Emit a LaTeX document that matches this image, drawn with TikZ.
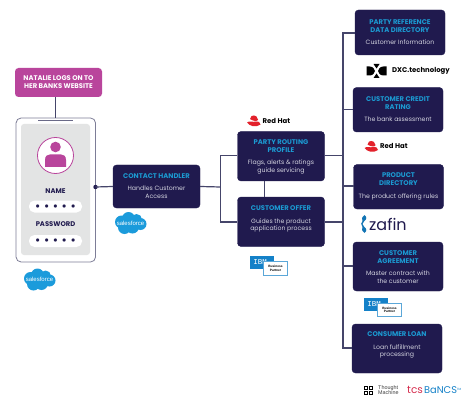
\documentclass[tikz,border=0pt]{standalone}
\usepackage{fontspec}
\setmainfont{Poppins}
\newfontfamily\libsans{Liberation Sans}
\newfontfamily\libmono{Liberation Mono}
\definecolor{navy}{HTML}{201A4E}
\definecolor{linec}{HTML}{45456A}
\definecolor{titleb}{HTML}{1B9AD2}
\definecolor{magen}{HTML}{B9459C}
\definecolor{greyin}{HTML}{E3E4E4}
\definecolor{cloudb}{HTML}{1B9BDB}
\definecolor{hatred}{HTML}{E3212B}
\definecolor{ibmb}{HTML}{1481C8}
\definecolor{descc}{HTML}{D4D4E0}
\tikzset{
 card/.style={fill=navy,draw=navy,rounded corners=3.5pt,inner sep=0pt},
 conn/.style={draw=linec,line width=1.2pt},
 cardtext/.style={align=center,inner sep=0pt,text=descc,font=\fontsize{6.2}{7.4}\selectfont},
 logotext/.style={inner sep=0pt,anchor=west},
}
\newcommand{\ttl}[1]{{\color{titleb}\fontsize{6.8}{7.4}\selectfont\bfseries #1}}
% \cardbox{name}{x1}{y1}{x2}{y2}{text y}{text}
\newcommand{\cardbox}[7]{%
 \node[card,minimum width={(#4-#2)*1pt},minimum height={(#5-#3)*1pt}] (#1) at ({(#2+#4)/2},{(#3+#5)/2}) {};
 \node[cardtext] (#1text) at ({(#2+#4)/2},#6) {#7};}
\newcommand{\cloud}[3]{% name cx cy
 \begin{scope}[shift={(#2,#3)}]
 \fill[cloudb] (-9,-1) circle (6.5) (-2,-4.5) circle (6.5) (6,-3.5) circle (5.5) (10,1) circle (6) (2,4) circle (6.5) (-6,4.5) circle (6.5);
 \node[text=white,inner sep=0pt,font=\libsans\fontsize{6}{6}\selectfont] (#1) at (0,0) {salesforce};
 \end{scope}}
\newcommand{\redhat}[3]{% name x y (left,centre)
 \begin{scope}[shift={(#2,#3)}]
 \fill[hatred] (0,2) .. controls (2,5.5) and (9,7.5) .. (13.5,4) .. controls (13.5,1.5) and (11,0.5) .. (9,1)
   .. controls (6,2) and (2,0) .. (0,2) -- cycle;
 \fill[hatred] (3,-1.5) .. controls (3.5,-4.5) and (5,-5) .. (7,-5) .. controls (9,-5) and (10,-4) .. (11,-1) .. controls (11.5,1) and (6,1) .. (3,-1.5) -- cycle;
 \node[logotext,font=\fontsize{6.9}{8}\selectfont\bfseries] (#1) at (15.5,0) {Red Hat};
 \end{scope}}
\newcommand{\ibm}[3]{% name x y (top-left)
 \begin{scope}[shift={(#2,#3)}]
 \fill[ibmb] (0,0) rectangle (24,13);
 \node[text=white,inner sep=0pt,font=\libmono\fontsize{7.5}{8}\selectfont] (#1) at (10.5,6.5) {IBM};
 \draw[ibmb!70,fill=white,line width=0.6pt] (14,5.5) rectangle (38,19);
 \node[inner sep=0pt,align=center,font=\libsans\bfseries\fontsize{3.2}{3.6}\selectfont] (#1b) at (26,12.2) {Business\\Partner};
 \end{scope}}
\newcommand{\fivedots}{$\bullet$\hspace{4.6pt}$\bullet$\hspace{4.6pt}$\bullet$\hspace{4.6pt}$\bullet$\hspace{4.6pt}$\bullet$}
\begin{document}
\begin{tikzpicture}[x=1pt,y=-1pt]
\useasboundingbox (0,0) rectangle (474,409);
\fill[white] (0,0) rectangle (474,409);
\coordinate (phoneport) at (95.5,187);
\coordinate (split) at (220.5,187);
\coordinate (splitup) at (220.5,155.5);
\coordinate (splitdn) at (220.5,222);
\coordinate (trunkt) at (343,33);
\coordinate (trunkb) at (343,348);
\coordinate (trunkr) at (343,155.5);
\coordinate (trunko) at (343,222);
% Natalie
\node[fill=magen,rounded corners=3.5pt,minimum width=87pt,minimum height=29pt,inner sep=0pt,align=center,text=white,font=\fontsize{6.8}{8.2}\selectfont\bfseries] (natalie) at (58.5,82.5) {NATALIE LOGS ON TO\\HER BANKS WEBSITE};
% Phone
\node[draw=linec!70,fill=white,line width=0.8pt,rounded corners=5pt,minimum width=79.5pt,minimum height=144pt,inner sep=0pt] (phone) at (55.8,190) {};
\draw[conn] (natalie.south -| phone.north) -- (phone.north);
\draw[linec!80,line width=1.4pt] (38,120.5) -- (72.5,120.5);
\node[fill=greyin,rounded corners=3pt,minimum width=69pt,minimum height=131pt,inner sep=0pt] (screen) at (55.5,189.5) {};
\node[circle,draw=magen,fill=white,line width=0.8pt,minimum size=36pt,inner sep=0pt] (avatar) at (55.5,155.5) {};
\fill[magen] (55.5,147) circle (5.3);
\fill[magen] (45,167) -- (45,160) .. controls (45,155.5) and (48,154.5) .. (50,154.5) -- (61,154.5) .. controls (63,154.5) and (66,155.5) .. (66,160) -- (66,167) -- cycle;
\node[inner sep=0pt,text=navy,font=\fontsize{6.8}{8}\selectfont\bfseries] (namelbl) at (55.5,191) {NAME};
\node[fill=white,rounded corners=5.5pt,minimum width=53pt,minimum height=12pt,inner sep=0pt,text=navy,font=\libsans\fontsize{8}{8}\selectfont] (namefld) at (55.5,206.5) {\fivedots};
\node[inner sep=0pt,text=navy,font=\fontsize{6.8}{8}\selectfont\bfseries] (passlbl) at (55.5,224) {PASSWORD};
\node[fill=white,rounded corners=5.5pt,minimum width=53pt,minimum height=12pt,inner sep=0pt,text=navy,font=\libsans\fontsize{8}{8}\selectfont] (passfld) at (55.5,241) {\fivedots};
% Cards
\cardbox{contact}{113}{165}{200}{208}{186}{\ttl{CONTACT HANDLER}\\[5pt]Handles Customer\\Access}
\cardbox{routing}{237.5}{131.5}{324.5}{181}{156.7}{\ttl{PARTY ROUTING}\\[0.7pt]\ttl{PROFILE}\\[5pt]Flags, alerts \& ratings\\guide servicing}
\cardbox{offer}{237.5}{197}{324.5}{246.5}{219}{\ttl{CUSTOMER OFFER}\\[5pt]Guides the product\\application process}
\cardbox{partyref}{355}{10}{445}{55}{32}{\ttl{PARTY REFERENCE}\\[0.7pt]\ttl{DATA DIRECTORY}\\[5pt]Customer Information}
\cardbox{credit}{353}{87.5}{443}{132}{109.2}{\ttl{CUSTOMER CREDIT}\\[0.7pt]\ttl{RATING}\\[5pt]The bank assessment}
\cardbox{product}{353.5}{164.5}{443.5}{209}{186.5}{\ttl{PRODUCT}\\[0.7pt]\ttl{DIRECTORY}\\[5pt]The product offering rules}
\cardbox{agreement}{353}{242}{443}{291}{267}{\ttl{CUSTOMER}\\[0.7pt]\ttl{AGREEMENT}\\[5pt]Master contract with\\the customer}
\cardbox{loan}{352}{324}{442}{373}{345}{\ttl{CONSUMER LOAN}\\[5pt]Loan fulfillment\\processing}
% Connectors
\fill[navy] (phoneport) circle (2.2);
\draw[conn] (phoneport) -- (contact.west);
\draw[conn] (contact.east) -- (split);
\draw[conn] (routing.west |- splitup) -- (splitup) -- (splitdn) -- (offer.west |- splitdn);
\draw[conn] (264.7,181) -- (264.7,197);
\draw[conn] (routing.east |- trunkr) -- (trunkr);
\draw[conn] (offer.east |- trunko) -- (trunko);
\draw[conn] (partyref.west |- trunkt) -- (trunkt) -- (trunkb) -- (loan.west |- trunkb);
\draw[conn] (343,109.5) -- (353,109.5);
\draw[conn] (343,186) -- (353.5,186);
\draw[conn] (343,266) -- (353,266);
% Salesforce
\cloud{sf1}{130.5}{223}
\cloud{sf2}{39.5}{279.5}
% Red Hat
\redhat{rh1}{247}{120.5}
\redhat{rh2}{364.5}{146}
% DXC
\begin{scope}[shift={(366.5,71)}]
 \fill (0,-4.5) -- (3,-4.5) .. controls (7,-4.5) and (8,-1.5) .. (8.5,0) .. controls (8,1.5) and (7,4.5) .. (3,4.5) -- (0,4.5) -- cycle;
 \fill (20,-4.5) -- (17,-4.5) .. controls (13,-4.5) and (12,-1.5) .. (11.5,0) .. controls (12,1.5) and (13,4.5) .. (17,4.5) -- (20,4.5) -- cycle;
 \fill (7,-7) -- (13,-7) -- (10,-2.5) -- cycle;
 \fill (7,7) -- (13,7) -- (10,2.5) -- cycle;
 \node[logotext,font=\fontsize{6.9}{8}\selectfont\bfseries] (dxc) at (25.5,0) {DXC.technology};
\end{scope}
% Zafin
\begin{scope}[shift={(361,224)}]
 \fill[ibmb!90!black] (3.5,-9) .. controls (6,-7) and (6,-5) .. (3,-2.5) .. controls (1,-1) and (1,1) .. (3,2.5) .. controls (6,5) and (6,7) .. (3.5,9) .. controls (1,7.5) and (0,5) .. (1.5,3) .. controls (-0.5,0.5) and (0,-1) .. (1.5,-3) .. controls (0,-5) and (1,-7.5) .. (3.5,-9) -- cycle;
 \node[logotext,text=navy,font=\fontsize{16}{16}\selectfont] (zafin) at (8,0) {zafin};
\end{scope}
% IBM
\ibm{ibm1}{249.5}{256}
\ibm{ibm2}{363.5}{297.5}
% Thought Machine
\begin{scope}[shift={(363.5,385.5)}]
 \foreach \i/\j in {0/0,5.5/0,0/5.5,5.5/5.5}{\draw[black,line width=0.9pt] (\i+.5,\j+.5) rectangle (\i+3.5,\j+3.5);}
 \node[logotext,align=left,text=black!75,font=\libsans\fontsize{5.4}{5.8}\selectfont] (tm) at (14.5,4.5) {Thought\\Machine};
\end{scope}
% TCS BaNCS
\node[inner sep=0pt,anchor=west,text=hatred!70!magen,font=\fontsize{10.5}{11}\selectfont] (tcs) at (407,390) {tcs};
\node[inner sep=0pt,anchor=west,text=ibmb,font=\fontsize{9.8}{10}\selectfont] (bancs) at (424,390) {BaNCS\raisebox{3pt}{\fontsize{3}{3}\selectfont TM}};
\end{tikzpicture}
\end{document}
